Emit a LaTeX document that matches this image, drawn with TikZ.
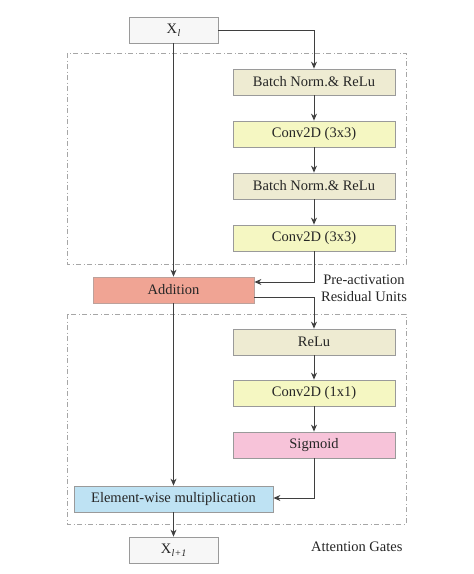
\documentclass[tikz,border=0pt]{standalone}
\usepackage{fontspec}
\setmainfont{Liberation Serif}
\usetikzlibrary{arrows.meta}
\definecolor{bnfill}{HTML}{EEEBD2}
\definecolor{convfill}{HTML}{F5F7C2}
\definecolor{addfill}{HTML}{F0A494}
\definecolor{sigfill}{HTML}{F7C3D9}
\definecolor{ewfill}{HTML}{BEE2F3}
\definecolor{xfill}{HTML}{F7F7F7}
\definecolor{linec}{HTML}{3F3F3F}
\definecolor{boxline}{HTML}{9A9A9A}
\tikzset{
  blk/.style={draw=boxline, line width=0.8pt, minimum height=26pt, inner sep=0pt, font=\fontsize{14.5}{16}\selectfont, text=black!85},
  rbox/.style={blk, minimum width=162pt},
  xbox/.style={blk, fill=xfill, minimum width=89pt},
  conn/.style={draw=linec, line width=0.9pt, -{Stealth[length=7pt,width=6pt]}},
  frame/.style={draw=gray!70, line width=0.6pt, dash pattern=on 5pt off 2.5pt on 1pt off 2.5pt},
  lbl/.style={font=\fontsize{14.5}{17}\selectfont, text=black!85, align=center}
}
\begin{document}
\begin{tikzpicture}[x=1pt,y=-1pt]
\useasboundingbox (0,0) rectangle (474,574);
\draw[frame] (67,53) rectangle (406,264);
\draw[frame] (67,314) rectangle (406,524);
\node[xbox] (xl) at (173.5,30) {X\textit{\kern0.5pt\raisebox{-2.5pt}{\fontsize{10}{10}\selectfont l}}};
\node[rbox, fill=bnfill] (bn1) at (314,82) {Batch Norm.\& ReLu};
\node[rbox, fill=convfill] (cv1) at (314,134) {Conv2D (3x3)};
\node[rbox, fill=bnfill] (bn2) at (314,186) {Batch Norm.\& ReLu};
\node[rbox, fill=convfill] (cv2) at (314,238) {Conv2D (3x3)};
\node[blk, fill=addfill, draw=addfill!60!black!60, minimum width=161pt] (add) at (173.5,290) {Addition};
\node[rbox, fill=bnfill] (relu) at (314,342) {ReLu};
\node[rbox, fill=convfill] (cv3) at (314,393) {Conv2D (1x1)};
\node[rbox, fill=sigfill] (sig) at (314,445) {Sigmoid};
\node[blk, fill=ewfill, minimum width=199pt] (ew) at (173.5,499) {Element-wise multiplication};
\node[xbox] (xl1) at (173.5,550) {X\textit{\kern0.5pt\raisebox{-2.5pt}{\fontsize{10}{10}\selectfont l+1}}};
\node[lbl] (pre) at (364,288) {Pre-activation\\Residual Units};
\node[lbl, anchor=east] (att) at (406,547) {Attention Gates};
\coordinate (c1) at (314,30);
\coordinate (c2) at (314,282);
\coordinate (c3) at (314,297);
\coordinate (c4) at (314,498);
\draw[conn] (xl.east) -- (c1) -- (bn1.north);
\draw[conn] (bn1) -- (cv1);
\draw[conn] (cv1) -- (bn2);
\draw[conn] (bn2) -- (cv2);
\draw[conn] (cv2.south) -- (c2) -- (add.east |- c2);
\draw[conn] (add.east |- c3) -- (c3) -- (relu.north);
\draw[conn] (relu) -- (cv3);
\draw[conn] (cv3) -- (sig);
\draw[conn] (sig.south) -- (c4) -- (ew.east |- c4);
\draw[conn] (xl) -- (add);
\draw[conn] (add) -- (ew);
\draw[conn] (ew) -- (xl1);
\end{tikzpicture}
\end{document}
